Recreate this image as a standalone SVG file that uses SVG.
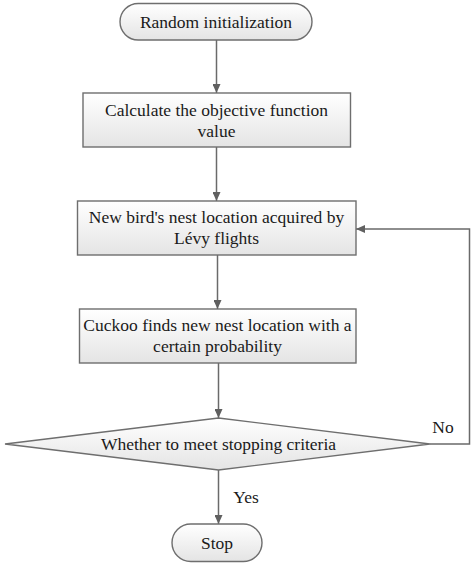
<svg xmlns="http://www.w3.org/2000/svg" width="474" height="566" viewBox="0 0 474 566">
<defs>
<linearGradient id="g" x1="0" y1="0" x2="0" y2="1">
<stop offset="0" stop-color="#ffffff"/>
<stop offset="1" stop-color="#e4e4e4"/>
</linearGradient>
<marker id="ah" markerWidth="10" markerHeight="8" refX="9" refY="4" orient="auto" markerUnits="userSpaceOnUse">
<path d="M0,0 L9,4 L0,8 Z" fill="#606060"/>
</marker>
<style>
.n{fill:url(#g);stroke:#6e6e6e;stroke-width:1.4}
.t{font-size:17.5px;fill:#1a1a1a;text-anchor:middle}
.c{fill:none;stroke:#6a6a6a;stroke-width:1.5}
</style>
</defs>
<rect width="474" height="566" fill="#ffffff"/>
<g font-family="'Liberation Serif', 'Times New Roman', Times, 'DejaVu Serif', serif">
<g id="connectors">
<line class="c" x1="216.5" y1="40" x2="216.5" y2="93" marker-end="url(#ah)"/>
<line class="c" x1="216.5" y1="147" x2="216.5" y2="201" marker-end="url(#ah)"/>
<line class="c" x1="217.5" y1="255" x2="217.5" y2="309" marker-end="url(#ah)"/>
<line class="c" x1="218.5" y1="363" x2="218.5" y2="418" marker-end="url(#ah)"/>
<line class="c" x1="218.5" y1="470" x2="218.5" y2="524" marker-end="url(#ah)"/>
<polyline class="c" points="430,444 469.5,444 469.5,229 356,229" marker-end="url(#ah)"/>
<text class="t" x="443" y="433">No</text>
<text class="t" x="246" y="503">Yes</text>
</g>
<g id="start">
<rect class="n" x="120" y="3.5" width="192" height="36.5" rx="18.25"/>
<text class="t" x="216" y="28">Random initialization</text>
</g>
<g id="calc">
<rect class="n" x="83" y="93" width="267.5" height="54"/>
<text class="t" x="216.5" y="116">Calculate the objective function</text>
<text class="t" x="216.5" y="137">value</text>
</g>
<g id="levy">
<rect class="n" x="77.5" y="201" width="278.5" height="54"/>
<text class="t" x="216.5" y="223">New bird's nest location acquired by</text>
<text class="t" x="216.5" y="244">Lévy flights</text>
</g>
<g id="cuckoo">
<rect class="n" x="79.5" y="309" width="276.5" height="54"/>
<text class="t" x="217.5" y="331">Cuckoo finds new nest location with a</text>
<text class="t" x="217.5" y="352">certain probability</text>
</g>
<g id="decision">
<polygon class="n" points="218.5,418 430,444 218.5,470 5,444"/>
<text class="t" x="218.5" y="450">Whether to meet stopping criteria</text>
</g>
<g id="stop">
<rect class="n" x="172" y="524" width="90" height="37.5" rx="18.75"/>
<text class="t" x="217" y="549">Stop</text>
</g>
</g>
</svg>
